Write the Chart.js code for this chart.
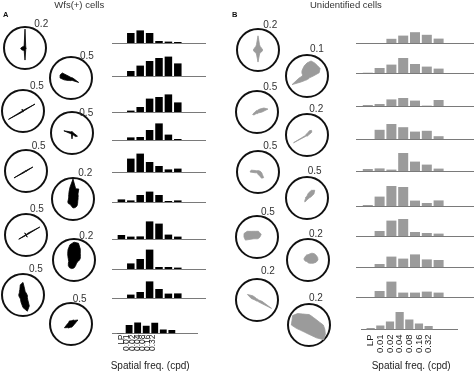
<!DOCTYPE html>
<html><head><meta charset="utf-8">
<script src="https://cdn.jsdelivr.net/npm/chart.js@4.4.1/dist/chart.umd.min.js"></script>
<style>
html,body{margin:0;padding:0;background:#fff;}
#fig{position:relative;width:474px;height:371px;overflow:hidden;font-family:"Liberation Sans",Arial,sans-serif;color:#333;}
#fig canvas{position:absolute;display:block;}
.t{position:absolute;white-space:nowrap;line-height:1;}
</style></head><body><div id="fig"></div>
<script>
// ---------- data ----------
const freqLabels = ['LP','0.01','0.02','0.04','0.08','0.16','0.32'];
const bearings = [0,15,30,45,60,75,90,105,120,135,150,165,180,195,210,225,240,255,270,285,300,315,330,345];

// Panel A: Wfs(+) cells — spatial-frequency histograms (LP .. 0.32 cpd)
const wfsHist = [
  [0,    0.5,  0.63, 0.5,  0.1,  0.07, 0.05],
  [0,    0.25, 0.52, 0.75, 0.9,  0.97, 0.63],
  [0,    0.07, 0.25, 0.67, 0.75, 0.88, 0.48],
  [0,    0.13, 0.15, 0.5,  0.83, 0.27, 0.05],
  [0,    0.67, 0.92, 0.5,  0.3,  0.13, 0.17],
  [0.13, 0.08, 0.35, 0.52, 0.35, 0.05, 0.08],
  [0.2,  0.12, 0.13, 0.88, 0.77, 0.22, 0.12],
  [0,    0.28, 0.5,  0.97, 0.1,  0.1,  0.07],
  [0,    0.17, 0.3,  0.83, 0.45, 0.22, 0.23],
  [0.02, 0.42, 0.55, 0.38, 0.53, 0.2,  0.17]
];
// Panel A: polar scale (outer circle value)
const wfsScale = [0.2, 0.5, 0.5, 0.5, 0.5, 0.2, 0.5, 0.2, 0.5, 0.5];
// Panel A: direction tuning (24 directions, bearing 0..345)
const wfsTuning = [
  [0.18,0.025,0.015,0.012,0.01,0.01,0.012,0.012,0.012,0.012,0.015,0.025,0.115,0.03,0.025,0.03,0.035,0.04,0.04,0.03,0.025,0.02,0.02,0.03],
  [0.012,0.012,0.012,0.015,0.02,0.03,0.04,0.07,0.21,0.1,0.07,0.06,0.06,0.065,0.07,0.085,0.11,0.17,0.26,0.27,0.24,0.04,0.02,0.015],
  [0.02,0.02,0.025,0.04,0.33,0.03,0.02,0.015,0.015,0.015,0.02,0.02,0.02,0.02,0.025,0.05,0.4,0.04,0.02,0.02,0.02,0.025,0.05,0.025],
  [0.04,0.03,0.025,0.025,0.025,0.03,0.04,0.06,0.15,0.12,0.05,0.05,0.14,0.05,0.035,0.03,0.03,0.04,0.07,0.2,0.06,0.035,0.03,0.035],
  [0.015,0.015,0.015,0.03,0.19,0.03,0.015,0.015,0.015,0.015,0.015,0.015,0.015,0.015,0.015,0.04,0.33,0.04,0.015,0.015,0.015,0.015,0.015,0.015],
  [0.19,0.1,0.11,0.067,0.057,0.05,0.048,0.048,0.052,0.062,0.076,0.085,0.085,0.067,0.057,0.062,0.057,0.048,0.043,0.043,0.048,0.057,0.076,0.114],
  [0.015,0.015,0.02,0.06,0.38,0.03,0.015,0.015,0.015,0.02,0.06,0.02,0.015,0.015,0.015,0.03,0.2,0.03,0.015,0.015,0.015,0.02,0.06,0.02],
  [0.17,0.165,0.12,0.085,0.07,0.062,0.052,0.043,0.038,0.038,0.043,0.057,0.076,0.085,0.085,0.076,0.062,0.052,0.052,0.057,0.067,0.085,0.114,0.15],
  [0.3,0.15,0.1,0.09,0.09,0.09,0.1,0.11,0.12,0.16,0.3,0.4,0.3,0.18,0.12,0.1,0.1,0.1,0.1,0.1,0.1,0.12,0.15,0.25],
  [0.077,0.082,0.108,0.122,0.19,0.115,0.087,0.073,0.068,0.067,0.071,0.077,0.077,0.082,0.108,0.122,0.18,0.115,0.087,0.073,0.068,0.067,0.083,0.077]
];

// Panel B: Unidentified cells
const unidHist = [
  [0,    0,    0.21, 0.37, 0.54, 0.41, 0.22],
  [0.015,0.25, 0.42, 0.75, 0.45, 0.32, 0.22],
  [0.05, 0.1,  0.33, 0.4,  0.27, 0.02, 0.3 ],
  [0,    0.46, 0.75, 0.59, 0.37, 0.41, 0.14],
  [0.1,  0.13, 0.07, 0.9,  0.47, 0.32, 0.12],
  [0.05, 0.47, 1.0,  0.95, 0.27, 0.15, 0.28],
  [0,    0.25, 0.77, 0.85, 0.2,  0.15, 0.12],
  [0,    0.15, 0.52, 0.42, 0.63, 0.38, 0.35],
  [0,    0.3,  0.77, 0.22, 0.22, 0.27, 0.22],
  [0.07, 0.2,  0.4,  0.88, 0.5,  0.3,  0.17]
];
const unidScale = [0.2, 0.1, 0.5, 0.2, 0.5, 0.5, 0.5, 0.2, 0.2, 0.2];
const unidTuning = [
  [0.135,0.055,0.04,0.038,0.038,0.04,0.045,0.04,0.038,0.035,0.035,0.05,0.115,0.05,0.035,0.035,0.038,0.04,0.045,0.04,0.038,0.038,0.04,0.055],
  [0.062,0.074,0.072,0.07,0.072,0.06,0.03,0.02,0.015,0.015,0.015,0.015,0.018,0.02,0.026,0.04,0.082,0.04,0.022,0.022,0.028,0.034,0.04,0.05],
  [0.036,0.04,0.06,0.1,0.19,0.27,0.12,0.06,0.04,0.04,0.04,0.04,0.04,0.04,0.045,0.1,0.12,0.07,0.05,0.036,0.036,0.036,0.036,0.036],
  [0.011,0.019,0.048,0.062,0.052,0.024,0.011,0.011,0.011,0.011,0.011,0.011,0.011,0.011,0.011,0.019,0.148,0.014,0.011,0.011,0.011,0.011,0.011,0.011],
  [0.036,0.036,0.036,0.036,0.05,0.06,0.07,0.095,0.12,0.19,0.17,0.07,0.06,0.04,0.036,0.036,0.04,0.07,0.19,0.17,0.07,0.04,0.036,0.036],
  [0.048,0.12,0.21,0.26,0.19,0.095,0.048,0.036,0.036,0.036,0.036,0.036,0.04,0.07,0.107,0.07,0.04,0.036,0.036,0.036,0.036,0.036,0.036,0.04],
  [0.136,0.14,0.12,0.12,0.114,0.083,0.071,0.06,0.048,0.048,0.048,0.043,0.043,0.045,0.048,0.06,0.083,0.286,0.31,0.32,0.27,0.19,0.157,0.14],
  [0.05,0.06,0.075,0.085,0.09,0.095,0.095,0.08,0.06,0.045,0.035,0.03,0.025,0.02,0.02,0.02,0.025,0.03,0.035,0.04,0.04,0.04,0.045,0.05],
  [0.011,0.011,0.011,0.011,0.011,0.011,0.015,0.05,0.16,0.03,0.015,0.011,0.011,0.011,0.011,0.011,0.011,0.015,0.019,0.057,0.105,0.057,0.024,0.011],
  [0.1,0.089,0.083,0.083,0.089,0.104,0.136,0.156,0.18,0.198,0.141,0.105,0.089,0.082,0.08,0.085,0.097,0.124,0.168,0.168,0.18,0.154,0.121,0.105]
];

// ---------- layout (positions only) ----------
const layoutA = {
  histLeft: 112, histWidth: 94,
  baselines: [43, 76, 112, 140, 171.7, 202, 239, 269, 297.7, 333],
  circles: [[24.7,48],[70.8,78],[23.3,110.5],[72.2,133],[25.8,170.8],[73.2,198.7],[25.5,235],[73.7,259.7],[23,294.7],[70.5,324.3]],
  scaleText: [[34.3,23.5],[80,55.5],[30,85.5],[79.3,113.3],[31.7,145.5],[78.3,173.3],[30,209],[79.3,235.5],[29,269],[72.7,299]]
};
const layoutB = {
  histLeft: 356, histWidth: 118,
  baselines: [43, 72.7, 105.7, 139.3, 170.7, 205.7, 236, 266.7, 297, 330],
  circles: [[257.5,49.5],[306.7,76],[257,111.5],[307,135],[257.5,171.5],[306.8,197.5],[257,237],[307.5,260],[257,299.5],[308.5,325]],
  scaleText: [[263.3,24.5],[310,48.7],[263.3,87],[309.3,108.7],[263.3,146.3],[307.7,171.3],[261,212],[309,233.7],[261,271.3],[309,298]]
};

// ---------- rendering ----------
const fig = document.getElementById('fig');
Chart.defaults.font.family = '"Liberation Sans", Arial, sans-serif';
Chart.defaults.color = '#222';

const PX_PER_UNIT = 20;
const AXIS_COLOR = '#7a7a7a';

function makeCanvas(left, top, w, h) {
  const c = document.createElement('canvas');
  c.width = w; c.height = h;
  c.style.width = w + 'px'; c.style.height = h + 'px';
  c.style.left = left + 'px'; c.style.top = top + 'px';
  fig.appendChild(c);
  return c;
}
function text(str, x, cy, size, opts) {
  opts = opts || {};
  const d = document.createElement('div');
  d.className = 't';
  d.textContent = str;
  d.style.fontSize = size + 'px';
  d.style.left = x + 'px';
  d.style.top = (cy - size * 0.49) + 'px';
  if (opts.bold) d.style.fontWeight = 'bold';
  if (opts.color) d.style.color = opts.color;
  fig.appendChild(d);
}
const tickLabel = v => {
  const r = Math.round(v);
  return (Math.abs(v - r) < 1e-6 && r >= 0 && r < freqLabels.length) ? freqLabels[r] : '';
};

function hist(values, L, baseline, color, barPct, bottomMode) {
  const h = bottomMode ? 80 : 28;
  const c = makeCanvas(L.histLeft, 0, L.histWidth, h);
  const scales = {
    x: {type: 'linear', offset: false, min: -1, max: 9,
        display: bottomMode !== 'compressed',
        grid: {display: false, drawTicks: false},
        border: {display: true, color: AXIS_COLOR, width: 1},
        ticks: bottomMode === 'aligned'
          ? {display: true, stepSize: 1, autoSkip: false, minRotation: 90, maxRotation: 90,
             includeBounds: false, padding: 5, font: {size: 9.5}, color: '#222', callback: tickLabel}
          : {display: false}},
    y: {display: false, min: 0, max: 1.3}
  };
  if (bottomMode === 'compressed') {
    scales.xl = {type: 'linear', axis: 'x', position: 'bottom', min: -1.4, max: 14.06,
      grid: {display: false, drawTicks: false},
      border: {display: true, color: AXIS_COLOR, width: 1},
      ticks: {display: true, stepSize: 1, autoSkip: false, minRotation: 90, maxRotation: 90,
              includeBounds: false, padding: 1, font: {size: 8.5}, color: '#222', callback: tickLabel}};
  }
  const chart = new Chart(c, {
    type: 'bar',
    data: {datasets: [{
      data: values.map((v, i) => ({x: i, y: v})),
      backgroundColor: color, borderWidth: 0,
      barPercentage: barPct, categoryPercentage: 1
    }]},
    options: {
      responsive: false, animation: false, devicePixelRatio: 1, events: [],
      layout: {padding: {top: 0, bottom: bottomMode ? 0 : 1, left: 0, right: 0}},
      plugins: {legend: {display: false}, tooltip: {enabled: false}},
      scales: scales
    }
  });
  const area = chart.chartArea;
  chart.options.scales.y.max = (area.bottom - area.top) / PX_PER_UNIT;
  chart.update('none');
  c.style.top = (Math.round(baseline) - Math.round(chart.chartArea.bottom)) + 'px';
}

function polar(values, maxVal, cx, cy, color) {
  const size = 48;
  const c = makeCanvas(Math.round(cx - size / 2), Math.round(cy - size / 2), size, size);
  new Chart(c, {
    type: 'radar',
    data: {labels: bearings.map(String), datasets: [{
      data: values, fill: true, backgroundColor: color, borderColor: color,
      borderWidth: 0.8, pointRadius: 0, tension: 0, borderJoinStyle: 'round'
    }]},
    options: {
      responsive: false, animation: false, devicePixelRatio: 1, events: [],
      layout: {padding: 3},
      plugins: {legend: {display: false}, tooltip: {enabled: false}},
      scales: {r: {
        min: 0, max: maxVal, startAngle: 0,
        angleLines: {display: false},
        pointLabels: {display: false},
        ticks: {display: false, stepSize: maxVal},
        grid: {circular: true, color: '#111', lineWidth: 2}
      }}
    }
  });
}

function panel(L, hists, scalesArr, tunings, barColor, shapeColor, barPct, bottomMode) {
  hists.forEach((vals, i) => {
    hist(vals, L, L.baselines[i], barColor, barPct, i === hists.length - 1 ? bottomMode : null);
  });
  tunings.forEach((vals, i) => {
    polar(vals, scalesArr[i], L.circles[i][0], L.circles[i][1], shapeColor);
    text(String(scalesArr[i]), L.scaleText[i][0], L.scaleText[i][1], 10, {color: '#333'});
  });
}

panel(layoutA, wfsHist, wfsScale, wfsTuning, '#000', '#000', 0.8, 'compressed');
panel(layoutB, unidHist, unidScale, unidTuning, '#9b9b9b', '#9b9b9b', 0.85, 'aligned');

text('A', 3, 14.2, 7.5, {bold: true, color: '#111'});
text('B', 232, 14.2, 7.5, {bold: true, color: '#111'});
text('Wfs(+) cells', 54.3, 4.3, 9.5, {color: '#333'});
text('Unidentified cells', 310, 5, 9.5, {color: '#333'});
text('Spatial freq. (cpd)', 110.7, 366, 10, {color: '#222'});
text('Spatial freq. (cpd)', 371.7, 366, 10, {color: '#222'});
</script>
</body></html>
